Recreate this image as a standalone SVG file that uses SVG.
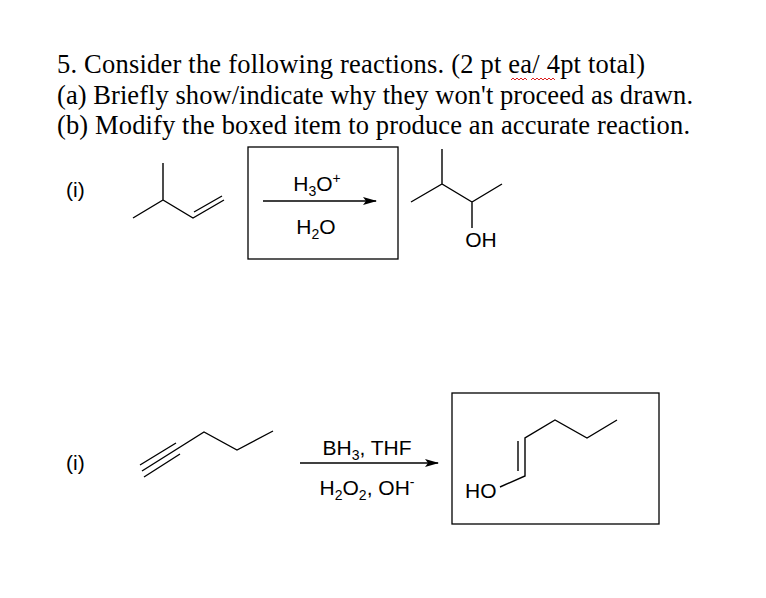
<svg xmlns="http://www.w3.org/2000/svg" width="766" height="598" viewBox="0 0 766 598">
<style>
.h{font-family:"Liberation Serif",serif;font-size:26.5px;fill:#000}
.s{font-family:"Liberation Sans",Arial,sans-serif;font-size:21px;fill:#000}
.b{stroke:#000;stroke-width:1.4;fill:none}
.box{stroke:#000;stroke-width:1.3;fill:none}
</style>
<defs><marker id="ah" markerWidth="14" markerHeight="8" refX="13" refY="4" orient="auto" markerUnits="userSpaceOnUse"><path d="M0,0 L14,4 L0,8 L3,4 Z" fill="#000"/></marker></defs>
<rect width="766" height="598" fill="#fff"/>
<g id="header">
<text class="h" x="57" y="73" textLength="588" lengthAdjust="spacing">5. Consider the following reactions.  (2 pt ea/ 4pt total)</text>
<text class="h" x="57" y="104" textLength="636" lengthAdjust="spacing">(a) Briefly show/indicate why they won't proceed as drawn.</text>
<text class="h" x="57" y="134" textLength="633" lengthAdjust="spacing">(b) Modify the boxed item to produce an accurate reaction.</text>
<path d="M511,80 l2,-2 2,2 2,-2 2,2 2,-2 2,2 2,-2 2,2 M531,80 l2,-2 2,2 2,-2 2,2 2,-2 2,2 2,-2 2,2 2,-2 2,2 2,-2 2,2" stroke="#d22" stroke-width="1" fill="none"/>
</g>
<g id="r1-label"><text class="s" x="66" y="197">(i)</text></g>
<g id="r1-reactant"><path class="b" d="M163,163 V200 M133,218 L163,200 L193,218 L224,200 M194,212 L222,196"/></g>
<g id="r1-box"><rect class="box" x="248" y="147" width="150" height="112"/>
<text class="s" x="317" y="191" text-anchor="middle">H<tspan font-size="14" dy="5">3</tspan><tspan dy="-5">O</tspan><tspan font-size="14" dy="-8">+</tspan></text>
<text class="s" x="316" y="234" text-anchor="middle">H<tspan font-size="14" dy="5">2</tspan><tspan dy="-5">O</tspan></text></g>
<g id="r1-product"><path class="b" d="M442,149 V184 M411,202 L442,184 L472,202 L502,184 M472,202 V228"/>
<text class="s" x="481" y="247" text-anchor="middle">OH</text></g>
<g id="r2-label"><text class="s" x="66" y="470">(i)</text></g>
<g id="r2-reactant"><path class="b" d="M142,471 L204,432 L237,450 L273,431 M140,465 L176,443 M144,477 L180,454"/></g>
<g id="r2-reagents"><text class="s" x="367" y="455" text-anchor="middle">BH<tspan font-size="14" dy="5">3</tspan><tspan dy="-5">, THF</tspan></text>
<text class="s" x="367" y="495" text-anchor="middle">H<tspan font-size="14" dy="5">2</tspan><tspan dy="-5">O</tspan><tspan font-size="14" dy="5">2</tspan><tspan dy="-5">, OH</tspan><tspan font-size="14" dy="-8">-</tspan></text></g>
<g id="r2-box"><rect class="box" x="452" y="393" width="207" height="131"/>
<text class="s" x="465" y="498">HO</text>
<path class="b" d="M500,487 L525,476 V438 L555,420 L587,438 L617,420 M518,471 V441"/></g>
<g id="connectors">
<line x1="263" y1="201" x2="376" y2="201" class="b" marker-end="url(#ah)"/>
<line x1="300" y1="463" x2="438" y2="463" class="b" marker-end="url(#ah)"/>
</g>
</svg>
